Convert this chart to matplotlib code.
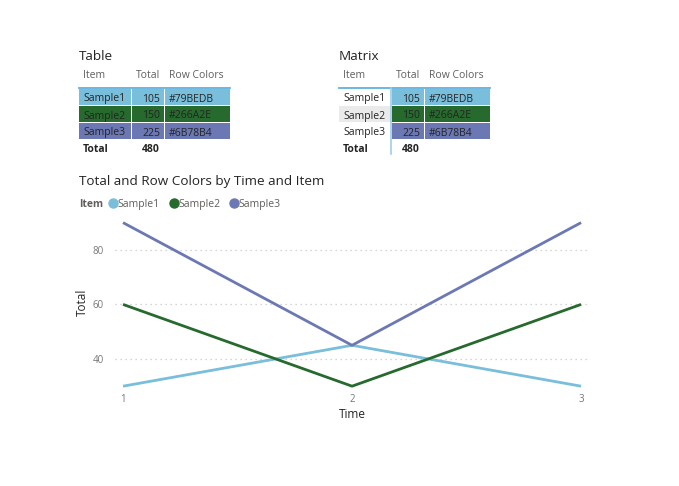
import matplotlib
matplotlib.use("Agg")
import matplotlib.pyplot as plt
from matplotlib.patches import Rectangle
from matplotlib.lines import Line2D

plt.rcParams['font.family'] = ['Open Sans', 'DejaVu Sans']

# ---- data ----
items = ["Sample1", "Sample2", "Sample3"]
row_colors = ["#79BEDB", "#266A2E", "#6B78B4"]
times = [1, 2, 3]
sample1 = [30, 45, 30]
sample2 = [60, 30, 60]
sample3 = [90, 45, 90]
series = [sample1, sample2, sample3]
yticks = [40, 60, 80]

totals = [sum(s) for s in series]
grand_total = sum(totals)

W, H = 679, 486
fig = plt.figure(figsize=(W / 100, H / 100), dpi=100)
fig.patch.set_facecolor("white")

def fx(x):
    return x / W

def fy(y):
    return 1 - y / H

def rect(x0, y0, x1, y1, color, z=1):
    fig.add_artist(Rectangle((fx(x0), fy(y1)), (x1 - x0) / W, (y1 - y0) / H,
                             transform=fig.transFigure, facecolor=color,
                             edgecolor="none", zorder=z))

def hline(x0, x1, y, color, lw=1.0):
    fig.add_artist(Line2D([fx(x0), fx(x1)], [fy(y), fy(y)], transform=fig.transFigure,
                          color=color, lw=lw, zorder=3))

def vline(x, y0, y1, color, lw=1.0):
    fig.add_artist(Line2D([fx(x), fx(x)], [fy(y0), fy(y1)], transform=fig.transFigure,
                          color=color, lw=lw, zorder=3))

def txt(x, y, s, ha="left", size=7.5, color="#252423", weight="normal"):
    fig.text(fx(x), fy(y), s, ha=ha, va="center_baseline", fontsize=size, color=color,
             fontweight=weight)

title_col = "#252423"
head_col = "#605E5C"
cell_txt = "#252423"
row_tops = [89, 106, 123]
row_h = 16

def draw_table(ox, title, matrix=False):
    txt(ox, 55, title, size=9.7, color=title_col)
    txt(ox + 4, 74.5, "Item", size=7.5, color=head_col)
    txt(ox + 81, 74.5, "Total", ha="right", size=7.5, color=head_col)
    txt(ox + 90, 74.5, "Row Colors", size=7.5, color=head_col)
    hline(ox, ox + 151, 88.5, "#5EB2E0", lw=1.3)
    for i, (name, tot, col) in enumerate(zip(items, totals, row_colors)):
        y0 = row_tops[i]
        y1 = y0 + row_h
        if matrix:
            if i == 1:
                rect(ox, y0, ox + 52, y1, "#EAEAEA")
            rect(ox + 53, y0, ox + 85, y1, col)
            rect(ox + 86, y0, ox + 151, y1, col)
        else:
            rect(ox, y0, ox + 52, y1, col)
            rect(ox + 53, y0, ox + 85, y1, col)
            rect(ox + 86, y0, ox + 151, y1, col)
        yc = (y0 + y1) / 2 + 0.5
        txt(ox + 4, yc, name, color=cell_txt)
        txt(ox + 81, yc, str(tot), ha="right", color=cell_txt)
        txt(ox + 90, yc, col, color=cell_txt)
    txt(ox + 4, 147.5, "Total", color=title_col, weight="bold")
    txt(ox + 81, 147.5, str(grand_total), ha="right", color=title_col, weight="bold")
    if matrix:
        vline(ox + 52.5, 88, 154, "#9CCDEB", lw=1.2)

draw_table(79, "Table")
draw_table(339, "Matrix", matrix=True)

# ---- line chart ----
txt(79, 180, "Total and Row Colors by Time and Item", size=9.7, color=title_col)
txt(79, 203, "Item", size=7.5, color=head_col, weight="bold")
leg_x = [113, 174, 234]
for lx, name, col in zip(leg_x, items, row_colors):
    fig.add_artist(Line2D([fx(lx)], [fy(203)], transform=fig.transFigure, marker="o",
                          markersize=6.5, color=col, linestyle="none"))
    txt(lx + 4.5, 203, name, size=7.5, color=head_col)

left, right, top, bottom = 115, 590, 215, 390
ax = fig.add_axes([fx(left), fy(bottom), (right - left) / W, (bottom - top) / H])
for s, col in zip(series, row_colors):
    ax.plot(times, s, color=col, lw=2.0, solid_capstyle="butt", zorder=3)

ax.set_xlim(0.965, 3.039)
ax.set_ylim(28.6, 92.8)
ax.set_yticks(yticks)
ax.set_xticks(times)
ax.set_xticklabels([str(t) for t in times])
ax.tick_params(length=0, labelsize=7, colors="#777777")
ax.tick_params(axis="y", pad=8)
ax.tick_params(axis="x", pad=3)
for sp in ax.spines.values():
    sp.set_visible(False)
ax.grid(axis="y", linestyle=(0, (1, 3)), color="#C8C8C8", lw=0.9)
ax.set_axisbelow(True)
ax.set_xlabel("Time", fontsize=8.5, color="#252423", labelpad=2)
ax.set_ylabel("Total", fontsize=8.5, color="#252423", labelpad=3)

fig.savefig("out.png", dpi=100, facecolor="white")
